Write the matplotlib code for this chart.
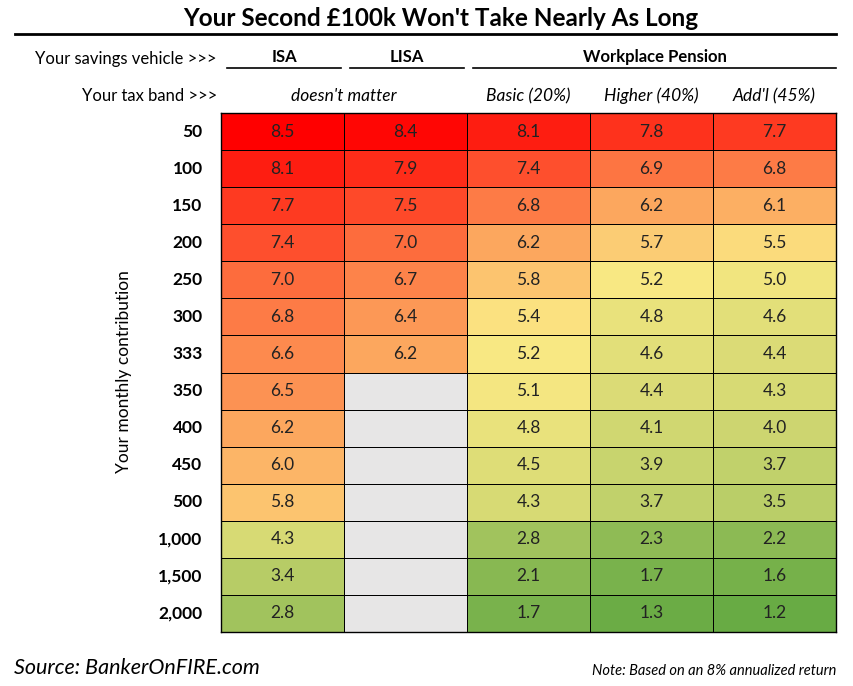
import numpy as np
import matplotlib.pyplot as plt
from matplotlib.colors import LinearSegmentedColormap

plt.rcParams['font.family'] = ['Lato', 'DejaVu Sans']

# years to reach the second £100k
contrib = ["50", "100", "150", "200", "250", "300", "333", "350", "400", "450",
           "500", "1,000", "1,500", "2,000"]
vehicles = ["ISA", "LISA", "Workplace Pension"]
bands = ["Basic (20%)", "Higher (40%)", "Add'l (45%)"]

isa = [8.5, 8.1, 7.7, 7.4, 7.0, 6.8, 6.6, 6.5, 6.2, 6.0, 5.8, 4.3, 3.4, 2.8]
lisa = [8.4, 7.9, 7.5, 7.0, 6.7, 6.4, 6.2, np.nan, np.nan, np.nan, np.nan, np.nan, np.nan, np.nan]
basic = [8.1, 7.4, 6.8, 6.2, 5.8, 5.4, 5.2, 5.1, 4.8, 4.5, 4.3, 2.8, 2.1, 1.7]
higher = [7.8, 6.9, 6.2, 5.7, 5.2, 4.8, 4.6, 4.4, 4.1, 3.9, 3.7, 2.3, 1.7, 1.3]
addl = [7.7, 6.8, 6.1, 5.5, 5.0, 4.6, 4.4, 4.3, 4.0, 3.7, 3.5, 2.2, 1.6, 1.2]

data = np.array([isa, lisa, basic, higher, addl]).T
nrow, ncol = data.shape

# excel style 3 colour scale: green (min) -> yellow (mid) -> red (max)
vmin, vmax = np.nanmin(data), np.nanmax(data)
mid_value = 5.3
mid = (mid_value - vmin) / (vmax - vmin)
cmap = LinearSegmentedColormap.from_list(
    "ryg", [(0, "#68ab44"), (mid, "#fbe984"), (1, "#ff0000")])
cmap.set_bad("#e7e6e6")

W, H = 854, 686
fig = plt.figure(figsize=(W / 100, H / 100), dpi=100)

def px(x, y):
    return x / W, 1 - y / H

# table area
L, R, T, B = 221, 836, 113, 632
ax = fig.add_axes([L / W, 1 - B / H, (R - L) / W, (B - T) / H])
ax.pcolormesh(np.ma.masked_invalid(data), cmap=cmap, vmin=vmin, vmax=vmax,
              edgecolors="black", linewidth=0.6)
ax.set_xlim(0, ncol)
ax.set_ylim(nrow, 0)
ax.set_xticks([])
ax.set_yticks([])
for s in ax.spines.values():
    s.set_linewidth(1.0)

for i in range(nrow):
    for j in range(ncol):
        v = data[i, j]
        if not np.isnan(v):
            ax.text(j + 0.5, i + 0.5, f"{v:.1f}", ha="center", va="center",
                    fontsize=12.5, color="#222222")
    ax.text(-0.15, i + 0.5, contrib[i], ha="right", va="center",
            fontsize=12.5, fontweight="bold", clip_on=False)

cw = (R - L) / ncol

# title and rule
fig.text(*px(441, 18), "Your Second £100k Won't Take Nearly As Long",
         ha="center", va="center", fontsize=17.5, fontweight="bold")
fig.add_artist(plt.Line2D([15 / W, 836 / W], [1 - 34 / H] * 2,
                          color="black", lw=2))

# header rows
fig.text(*px(217, 59), "Your savings vehicle >>>", ha="right", va="center", fontsize=12)
fig.text(*px(217, 96), "Your tax band >>>", ha="right", va="center", fontsize=12)

spans = [(0, 1), (1, 2), (2, 5)]
for name, (a, b) in zip(vehicles, spans):
    x0, x1 = L + a * cw + 6, L + b * cw - 3
    if b == ncol:
        x1 = R
    fig.text(*px((x0 + x1) / 2, 57), name, ha="center", va="center",
             fontsize=12, fontweight="bold")
    fig.add_artist(plt.Line2D([x0 / W, x1 / W], [1 - 68 / H] * 2,
                              color="black", lw=1.2))

fig.text(*px(L + cw, 96), "doesn't matter", ha="center", va="center",
         fontsize=12.5, style="italic")
for k, band in enumerate(bands):
    fig.text(*px(L + (k + 2.5) * cw, 96), band, ha="center", va="center",
             fontsize=12.5, style="italic")

fig.text(*px(124, 372), "Your monthly contribution", ha="center", va="center",
         rotation=90, fontsize=12.5)

fig.text(*px(14, 668), "Source: BankerOnFIRE.com", ha="left", va="center",
         fontsize=15.5, style="italic")
fig.text(*px(836, 671), "Note: Based on an 8% annualized return", ha="right",
         va="center", fontsize=10.5, style="italic")

fig.savefig("out.png", dpi=100, facecolor="white")
